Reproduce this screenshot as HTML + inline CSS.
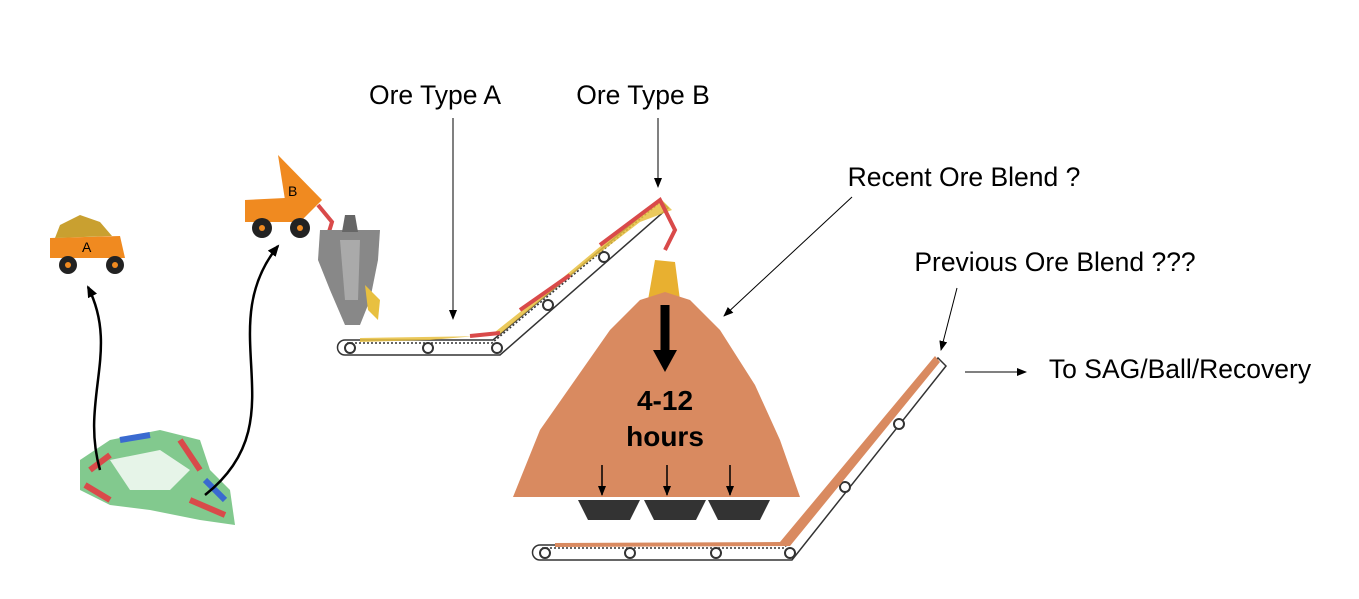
<!DOCTYPE html>
<html><head><meta charset="utf-8"><style>
html,body{margin:0;padding:0;background:#fff;}
svg{display:block;}
text{font-family:"Liberation Sans",Arial,sans-serif;}
</style></head><body>
<svg width="1359" height="599" viewBox="0 0 1359 599" xmlns="http://www.w3.org/2000/svg">
<defs>
<marker id="ah" markerWidth="10" markerHeight="8" refX="9" refY="4" orient="auto" markerUnits="userSpaceOnUse">
<path d="M0,0 L10,4 L0,8 z" fill="#000"/></marker>
<marker id="ah2" markerWidth="12" markerHeight="10" refX="10" refY="5" orient="auto" markerUnits="userSpaceOnUse">
<path d="M0,0 L12,5 L0,10 z" fill="#000"/></marker>
</defs>
<rect width="1359" height="599" fill="#fff"/>

<!-- labels -->
<text x="435" y="104" font-size="26.5" text-anchor="middle">Ore Type A</text>
<text x="643" y="104" font-size="26.5" text-anchor="middle">Ore Type B</text>
<text x="964" y="186" font-size="26.5" text-anchor="middle">Recent Ore Blend ?</text>
<text x="1055" y="271" font-size="26.5" text-anchor="middle">Previous Ore Blend ???</text>
<text x="1180" y="378" font-size="26.5" text-anchor="middle">To SAG/Ball/Recovery</text>

<!-- arrows -->
<line x1="453" y1="118" x2="453" y2="319" stroke="#000" stroke-width="1" marker-end="url(#ah)"/>
<line x1="658" y1="118" x2="658" y2="187" stroke="#000" stroke-width="1" marker-end="url(#ah)"/>
<line x1="852" y1="197" x2="724" y2="316" stroke="#000" stroke-width="1" marker-end="url(#ah)"/>
<line x1="957" y1="288" x2="941" y2="350" stroke="#000" stroke-width="1" marker-end="url(#ah)"/>
<line x1="965" y1="372" x2="1026" y2="372" stroke="#000" stroke-width="1" marker-end="url(#ah)"/>

<!-- upper conveyor -->
<g fill="none" stroke="#333" stroke-width="1.5">
<path d="M345,340 L493,340 L660,200 L668,208 L500,355 L345,355 A7.5,7.5 0 0 1 345,340 z"/>
<path d="M347,343 L492,343 L658,204" stroke-dasharray="2,2"/>
</g>
<circle cx="350" cy="348" r="5" fill="#fff" stroke="#333" stroke-width="2"/>
<circle cx="428" cy="348" r="5" fill="#fff" stroke="#333" stroke-width="2"/>
<circle cx="497" cy="348" r="5" fill="#fff" stroke="#333" stroke-width="2"/>
<circle cx="548" cy="305" r="5" fill="#fff" stroke="#333" stroke-width="2"/>
<circle cx="604" cy="257" r="5" fill="#fff" stroke="#333" stroke-width="2"/>
<path d="M360,338 L490,336 L560,280 L620,230 L660,198 L672,210 L640,222 L580,268 L500,334 L430,340 L360,342 z" fill="#e8c040" opacity="0.85"/>
<path d="M470,336 L500,333 M520,310 L570,275 M600,245 L660,200 L675,230 L665,250" stroke="#d94a4a" stroke-width="4" fill="none"/>
<path d="M655,260 L675,262 L680,300 L648,300 z" fill="#e8b030"/>

<!-- pile -->
<path d="M513,497 L540,430 L575,380 L610,330 L640,300 L665,292 L690,300 L720,330 L755,385 L780,440 L800,497 z" fill="#d98a60"/>
<line x1="665" y1="305" x2="665" y2="352" stroke="#000" stroke-width="9"/>
<path d="M653,350 L677,350 L665,372 z" fill="#000"/>
<text x="665" y="410" font-size="28" font-weight="bold" text-anchor="middle">4-12</text>
<text x="665" y="446" font-size="28" font-weight="bold" text-anchor="middle">hours</text>
<g stroke="#000" stroke-width="1.5">
<line x1="602" y1="465" x2="602" y2="495" marker-end="url(#ah)"/>
<line x1="667" y1="465" x2="667" y2="495" marker-end="url(#ah)"/>
<line x1="730" y1="465" x2="730" y2="495" marker-end="url(#ah)"/>
</g>
<g fill="#333">
<path d="M578,500 L640,500 L630,520 L588,520 z"/>
<path d="M644,500 L706,500 L696,520 L654,520 z"/>
<path d="M708,500 L770,500 L760,520 L718,520 z"/>
</g>

<!-- lower conveyor -->
<g fill="none" stroke="#333" stroke-width="1.5">
<path d="M540,545 L785,545 L938,358 L946,366 L792,560 L540,560 A7.5,7.5 0 0 1 540,545 z"/>
<path d="M542,548 L784,548 L938,362" stroke-dasharray="2,2"/>
</g>
<circle cx="545" cy="553" r="5" fill="#fff" stroke="#333" stroke-width="2"/>
<circle cx="630" cy="553" r="5" fill="#fff" stroke="#333" stroke-width="2"/>
<circle cx="716" cy="553" r="5" fill="#fff" stroke="#333" stroke-width="2"/>
<circle cx="790" cy="553" r="5" fill="#fff" stroke="#333" stroke-width="2"/>
<circle cx="845" cy="487" r="5" fill="#fff" stroke="#333" stroke-width="2"/>
<circle cx="899" cy="424" r="5" fill="#fff" stroke="#333" stroke-width="2"/>
<path d="M555,543 L780,542 L935,356 L940,362 L790,546 L555,547 z" fill="#d98a60"/>

<!-- trucks -->
<g>
<path d="M50,238 L120,236 L125,258 L50,258 z" fill="#f08a20"/>
<path d="M60,225 L80,215 L100,222 L112,236 L55,238 z" fill="#c9a030"/>
<text x="82" y="252" font-size="14">A</text>
<circle cx="68" cy="265" r="9" fill="#222"/><circle cx="68" cy="265" r="3" fill="#f08a20"/>
<circle cx="115" cy="265" r="9" fill="#222"/><circle cx="115" cy="265" r="3" fill="#f08a20"/>
</g>
<g>
<path d="M245,200 L285,198 L300,222 L245,222 z" fill="#f08a20"/>
<path d="M278,155 L322,200 L300,222 L285,200 z" fill="#f08a20"/>
<text x="288" y="196" font-size="14">B</text>
<circle cx="262" cy="228" r="10" fill="#222"/><circle cx="262" cy="228" r="3" fill="#f08a20"/>
<circle cx="300" cy="228" r="10" fill="#222"/><circle cx="300" cy="228" r="3" fill="#f08a20"/>
<path d="M318,205 L332,222 L328,235" stroke="#d94a4a" stroke-width="4" fill="none"/>
</g>
<!-- crusher -->
<path d="M320,230 L380,230 L378,260 L370,300 L360,325 L345,325 L330,290 L318,260 z" fill="#888"/>
<path d="M345,215 L355,215 L358,232 L342,232 z" fill="#666"/>
<path d="M340,240 L360,240 L358,300 L345,300 z" fill="#aaa"/>
<path d="M365,285 L380,300 L378,320 L368,310 z" fill="#e8c040"/>

<!-- pit -->
<path d="M80,460 L110,440 L160,430 L200,440 L210,470 L230,490 L235,525 L200,520 L150,510 L110,505 L80,490 z" fill="#6cc07a" opacity="0.85"/>
<path d="M110,460 L160,450 L190,470 L170,490 L130,490 z" fill="#fff" opacity="0.8"/>
<path d="M90,470 L110,455 M180,440 L200,470 M190,500 L225,515 M85,485 L110,500" stroke="#d94a4a" stroke-width="6"/>
<path d="M120,440 L150,435 M205,480 L225,500" stroke="#3a6ad0" stroke-width="6"/>

<!-- curved arrows -->
<path d="M100,470 C80,400 120,350 88,287" stroke="#000" stroke-width="2.5" fill="none" marker-end="url(#ah2)"/>
<path d="M205,495 C300,420 210,330 278,246" stroke="#000" stroke-width="2.5" fill="none" marker-end="url(#ah2)"/>
</svg>
</body></html>
